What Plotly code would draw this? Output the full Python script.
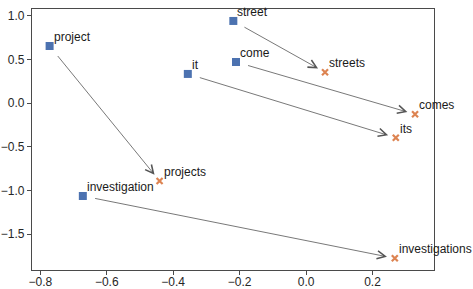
import plotly.graph_objects as go

# word pairs: singular -> plural
src_words = ["project", "it", "street", "come", "investigation"]
src_x = [-0.772, -0.356, -0.219, -0.211, -0.672]
src_y = [0.656, 0.336, 0.943, 0.473, -1.062]

dst_words = ["projects", "its", "streets", "comes", "investigations"]
dst_x = [-0.441, 0.270, 0.057, 0.328, 0.267]
dst_y = [-0.890, -0.394, 0.355, -0.126, -1.776]

x_ticks = [-0.8, -0.6, -0.4, -0.2, 0.0, 0.2]
y_ticks = [1.0, 0.5, 0.0, -0.5, -1.0, -1.5]

BLUE = "#4C72B0"
ORANGE = "#DD8452"
AXIS = "#4a4a4a"
FONT = "Liberation Sans, Arial, sans-serif"

fig = go.Figure()
fig.add_trace(go.Scatter(x=src_x, y=src_y, mode="markers",
                         marker=dict(symbol="square", size=8, color=BLUE),
                         showlegend=False))
fig.add_trace(go.Scatter(x=dst_x, y=dst_y, mode="markers",
                         marker=dict(symbol="x-thin", size=6, color=ORANGE,
                                     line=dict(width=2.2, color=ORANGE)),
                         showlegend=False))

annotations = []
for i in range(len(src_words)):
    annotations.append(dict(x=dst_x[i], y=dst_y[i], ax=src_x[i], ay=src_y[i],
                            xref="x", yref="y", axref="x", ayref="y",
                            text="", showarrow=True, arrowhead=5, arrowsize=2,
                            arrowwidth=0.8, arrowcolor="#555555",
                            standoff=8, startstandoff=11))
for words, xs, ys in ((src_words, src_x, src_y), (dst_words, dst_x, dst_y)):
    for w, x, y in zip(words, xs, ys):
        annotations.append(dict(x=x, y=y, xref="x", yref="y", text=w,
                                showarrow=False, xanchor="left", yanchor="bottom",
                                xshift=2, yshift=0,
                                font=dict(family=FONT, size=12, color="#1a1a1a")))

axis_common = dict(showgrid=False, zeroline=False, showline=True, mirror=True,
                   linecolor=AXIS, linewidth=1.2, ticks="outside", ticklen=4,
                   tickwidth=1.2, tickcolor=AXIS, automargin=False,
                   tickfont=dict(family=FONT, size=12, color="#262626"))

fig.update_layout(
    width=473, height=289,
    margin=dict(l=32, r=39, t=9, b=19),
    plot_bgcolor="white", paper_bgcolor="white",
    xaxis=dict(range=[-0.825, 0.385], tickvals=x_ticks,
               ticktext=[f"{v:.1f}".replace("-", "\u2212") for v in x_ticks],
               ticklabelstandoff=-4, **axis_common),
    yaxis=dict(range=[-1.91, 1.08], tickvals=y_ticks,
               ticktext=[f"{v:.1f}".replace("-", "\u2212") for v in y_ticks],
               **axis_common),
    annotations=annotations,
)

fig.write_html("out.html")
